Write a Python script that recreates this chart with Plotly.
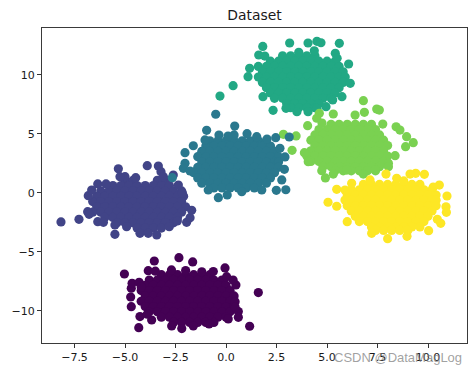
import plotly.graph_objects as go

COLORS = {"purple": "#440154", "blue": "#414487", "teal": "#2a788e",
          "dgreen": "#22a884", "lgreen": "#7ad151", "yellow": "#fde725"}

X_TICKS = [-7.5, -5.0, -2.5, 0.0, 2.5, 5.0, 7.5, 10.0]
X_LABELS = ["\u22127.5", "\u22125.0", "\u22122.5", "0.0", "2.5", "5.0", "7.5", "10.0"]
Y_TICKS = [-10, -5, 0, 5, 10]
Y_LABELS = ["\u221210", "\u22125", "0", "5", "10"]

# Each cluster: body rows (y, [x...]) and separately read edge points (x, y).
purple_rows = [
    (-6.95, [-3.2, -2.8, -2.4, -2.0, -1.6, -1.2, -0.8]),
    (-7.4, [-3.8, -3.4, -3.0, -2.6, -2.2, -1.8, -1.4, -1.0, -0.6, -0.2]),
    (-7.85, [-4.0, -3.6, -3.2, -2.8, -2.4, -2.0, -1.6, -1.2, -0.8, -0.4, 0.0]),
    (-8.3, [-4.2, -3.8, -3.4, -3.0, -2.6, -2.2, -1.8, -1.4, -1.0, -0.6, -0.2, 0.2]),
    (-8.75, [-4.0, -3.6, -3.2, -2.8, -2.4, -2.0, -1.6, -1.2, -0.8, -0.4, 0.0, 0.4]),
    (-9.2, [-4.2, -3.8, -3.4, -3.0, -2.6, -2.2, -1.8, -1.4, -1.0, -0.6, -0.2, 0.2]),
    (-9.65, [-4.0, -3.6, -3.2, -2.8, -2.4, -2.0, -1.6, -1.2, -0.8, -0.4, 0.0, 0.4]),
    (-10.1, [-3.8, -3.4, -3.0, -2.6, -2.2, -1.8, -1.4, -1.0, -0.6, -0.2, 0.2]),
    (-10.55, [-3.2, -2.8, -2.4, -2.0, -1.6, -1.2, -0.8, -0.4, 0.0]),
    (-11.0, [-2.6, -2.2, -1.8, -1.4, -1.0, -0.6]),
]
purple_edge = [(-5.03, -6.89), (-3.55, -5.79), (-2.33, -5.51), (-1.65, -5.87), (1.60, -8.47),
               (1.17, -11.32), (-4.32, -11.44), (-4.69, -9.66), (-4.72, -8.84), (-4.69, -8.10),
               (-4.65, -7.68), (-4.26, -10.5), (-3.68, -10.79), (-2.69, -11.3), (-2.19, -11.52),
               (-1.62, -11.3), (-0.84, -11.13), (0.11, -10.7), (0.61, -10.08), (0.61, -10.56),
               (0.45, -9.24), (0.49, -7.82), (-0.05, -6.38), (0.03, -7.12), (-0.63, -6.69),
               (-3.85, -6.61), (-3.5, -6.65), (-2.7, -6.55), (-2.0, -6.6), (-1.2, -6.7),
               (-4.3, -7.6), (-4.2, -8.0), (-3.9, -10.3), (0.45, -9.7), (0.35, -7.4)]

blue_rows = [
    (1.05, [-5.0, -4.6, -3.4, -3.0]),
    (0.6, [-5.6, -5.2, -4.8, -4.4, -4.0, -3.6, -3.2, -2.8]),
    (0.15, [-6.2, -5.8, -5.4, -5.0, -4.6, -4.2, -3.8, -3.4, -3.0, -2.6, -2.2]),
    (-0.3, [-6.4, -6.0, -5.6, -5.2, -4.8, -4.4, -4.0, -3.6, -3.2, -2.8, -2.4, -2.1]),
    (-0.75, [-6.6, -6.2, -5.8, -5.4, -5.0, -4.6, -4.2, -3.8, -3.4, -3.0, -2.6, -2.2]),
    (-1.2, [-6.4, -6.0, -5.6, -5.2, -4.8, -4.4, -4.0, -3.6, -3.2, -2.8, -2.4, -2.0]),
    (-1.65, [-6.6, -6.2, -5.8, -5.4, -5.0, -4.6, -4.2, -3.8, -3.4, -3.0, -2.6, -2.2]),
    (-2.1, [-6.0, -5.6, -5.2, -4.8, -4.4, -4.0, -3.6, -3.2, -2.8, -2.4]),
    (-2.55, [-5.4, -5.0, -4.6, -4.2, -3.8, -3.4, -3.0, -2.6]),
    (-3.0, [-4.4, -4.0, -3.6, -3.2]),
]
blue_edge = [(-8.17, -2.48), (-7.28, -2.26), (-5.33, 2.03), (-3.90, 2.29), (-3.35, 2.26),
             (-5.50, -3.53), (-3.43, -3.58), (-4.26, -3.44), (-3.85, -3.44), (-2.41, -2.40),
             (-1.95, -2.51), (-1.78, -2.12), (-1.70, -1.49), (-2.36, 0.65), (-2.16, -0.03),
             (-6.82, -0.25), (-6.35, 0.74), (-5.94, 0.74), (-6.65, 0.23), (-6.85, -1.61),
             (-6.78, -1.83), (-6.35, -2.46), (-6.07, -2.51), (-5.50, -2.74), (-4.92, -2.88),
             (-2.81, -2.88), (-3.22, 1.78), (-3.10, 1.36), (-5.0, 1.36), (-5.25, 1.36),
             (-4.47, 1.27), (-2.61, 1.5)]

teal_rows = [
    (4.4, [-0.8, -0.4, 0.0, 0.4, 0.8, 1.2, 1.6, 2.0]),
    (3.95, [-1.0, -0.6, -0.2, 0.2, 0.6, 1.0, 1.4, 1.8, 2.2]),
    (3.5, [-1.2, -0.8, -0.4, 0.0, 0.4, 0.8, 1.2, 1.6, 2.0, 2.4]),
    (3.05, [-1.4, -1.0, -0.6, -0.2, 0.2, 0.6, 1.0, 1.4, 1.8, 2.2, 2.6]),
    (2.6, [-1.2, -0.8, -0.4, 0.0, 0.4, 0.8, 1.2, 1.6, 2.0, 2.4, 2.6]),
    (2.15, [-1.4, -1.0, -0.6, -0.2, 0.2, 0.6, 1.0, 1.4, 1.8, 2.2, 2.6]),
    (1.7, [-1.6, -1.2, -0.8, -0.4, 0.0, 0.4, 0.8, 1.2, 1.6, 2.0, 2.4]),
    (1.25, [-1.4, -1.0, -0.6, -0.2, 0.2, 0.6, 1.0, 1.4, 1.8, 2.2]),
    (0.8, [-1.2, -0.8, -0.4, 0.0, 0.4, 0.8, 1.2, 1.6, 2.0]),
    (0.4, [-0.6, -0.2, 0.2, 0.6, 1.0, 1.4]),
]
teal_edge = [(-0.96, 5.29), (0.43, 5.65), (-0.51, 6.65), (-2.03, 3.39), (-2.03, 2.49),
             (-2.11, 2.07), (-1.78, 1.84), (-0.38, -0.42), (0.06, -0.19), (2.49, 0.20),
             (2.96, 0.25), (2.03, 4.55), (2.46, 4.66), (3.13, 4.72), (2.92, 3.03),
             (2.89, 1.98), (2.76, 1.08), (1.04, 5.0), (1.52, 4.75), (-0.35, 4.89),
             (-1.04, 4.47), (-1.62, 3.98), (2.67, 3.76), (1.77, 0.23), (0.78, 0.08),
             (-0.88, 0.23), (-2.66, 1.27), (0.4, 4.9), (0.1, 4.8)]

dgreen_rows = [
    (11.6, [2.8, 3.2, 3.6, 4.0, 4.4]),
    (11.15, [2.2, 2.6, 3.0, 3.4, 3.8, 4.2, 4.6, 5.0, 5.4]),
    (10.7, [1.6, 2.0, 2.4, 2.8, 3.2, 3.6, 4.0, 4.4, 4.8, 5.2, 5.6]),
    (10.25, [1.8, 2.2, 2.6, 3.0, 3.4, 3.8, 4.2, 4.6, 5.0, 5.4, 5.8]),
    (9.8, [1.6, 2.0, 2.4, 2.8, 3.2, 3.6, 4.0, 4.4, 4.8, 5.2, 5.6, 5.9]),
    (9.35, [1.8, 2.2, 2.6, 3.0, 3.4, 3.8, 4.2, 4.6, 5.0, 5.4, 5.8]),
    (8.9, [2.0, 2.4, 2.8, 3.2, 3.6, 4.0, 4.4, 4.8, 5.2, 5.6]),
    (8.45, [2.2, 2.6, 3.0, 3.4, 3.8, 4.2, 4.6, 5.0, 5.4]),
    (8.0, [2.4, 2.8, 3.2, 3.6, 4.0, 4.4, 4.8, 5.2]),
    (7.55, [3.0, 3.4, 3.8, 4.2, 4.6]),
    (7.2, [3.2, 3.6, 4.0, 4.4]),
]
dgreen_edge = [(-0.30, 8.19), (0.35, 9.07), (1.82, 12.4), (3.15, 12.69), (4.06, 12.69),
               (4.5, 12.83), (4.70, 12.71), (5.61, 12.66), (1.62, 11.67), (1.92, 11.58),
               (1.17, 10.54), (1.09, 9.83), (2.33, 6.98), (2.97, 7.15), (3.51, 6.86),
               (4.06, 6.86), (4.50, 7.15), (4.95, 7.29), (6.15, 9.27), (6.07, 10.91),
               (5.74, 8.14), (5.28, 7.86), (5.41, 11.81), (4.37, 12.03), (1.83, 8.14),
               (5.5, 11.4), (3.6, 11.9)]

lgreen_rows = [
    (5.8, [5.2, 5.6, 6.0, 6.4, 6.8, 7.2]),
    (5.35, [4.6, 5.0, 5.4, 5.8, 6.2, 6.6, 7.0, 7.4]),
    (4.9, [4.4, 4.8, 5.2, 5.6, 6.0, 6.4, 6.8, 7.2, 7.6]),
    (4.45, [4.2, 4.6, 5.0, 5.4, 5.8, 6.2, 6.6, 7.0, 7.4, 7.8]),
    (4.0, [4.4, 4.8, 5.2, 5.6, 6.0, 6.4, 6.8, 7.2, 7.6, 8.0]),
    (3.55, [4.2, 4.6, 5.0, 5.4, 5.8, 6.2, 6.6, 7.0, 7.4, 7.8]),
    (3.1, [4.0, 4.4, 4.8, 5.2, 5.6, 6.0, 6.4, 6.8, 7.2, 7.6, 8.0]),
    (2.65, [4.2, 4.6, 5.0, 5.4, 5.8, 6.2, 6.6, 7.0, 7.4, 7.8]),
    (2.2, [4.8, 5.2, 5.6, 6.0, 6.4, 6.8, 7.2, 7.6]),
    (1.85, [5.4, 5.8, 6.2, 6.6, 7.0, 7.4]),
]
lgreen_edge = [(6.80, 7.8), (7.46, 7.09), (7.59, 7.0), (5.31, 6.67), (6.85, 6.81),
               (4.62, 6.73), (4.49, 6.31), (4.04, 5.68), (9.27, 4.24), (8.89, 3.90),
               (8.94, 4.75), (8.42, 5.59), (8.61, 5.31), (2.84, 4.95), (3.47, 4.81),
               (3.27, 3.59), (4.92, 1.25), (4.74, 1.86), (5.31, 1.58), (8.37, 3.14),
               (8.04, 2.49), (8.04, 2.2), (3.88, 3.39), (4.07, 2.63), (7.76, 5.82),
               (6.39, 6.58), (5.98, 1.92), (6.80, 1.58), (7.38, 1.92), (4.75, 5.9)]

yellow_rows = [
    (0.7, [6.8, 7.2, 7.6, 8.0, 8.4, 8.8, 9.2, 9.6]),
    (0.25, [6.2, 6.6, 7.0, 7.4, 7.8, 8.2, 8.6, 9.0, 9.4, 9.8, 10.2]),
    (-0.2, [6.0, 6.4, 6.8, 7.2, 7.6, 8.0, 8.4, 8.8, 9.2, 9.6, 10.0, 10.4]),
    (-0.65, [6.2, 6.6, 7.0, 7.4, 7.8, 8.2, 8.6, 9.0, 9.4, 9.8, 10.2, 10.4]),
    (-1.1, [6.0, 6.4, 6.8, 7.2, 7.6, 8.0, 8.4, 8.8, 9.2, 9.6, 10.0, 10.4]),
    (-1.55, [6.2, 6.6, 7.0, 7.4, 7.8, 8.2, 8.6, 9.0, 9.4, 9.8, 10.2]),
    (-2.0, [6.4, 6.8, 7.2, 7.6, 8.0, 8.4, 8.8, 9.2, 9.6, 10.0]),
    (-2.45, [6.6, 7.0, 7.4, 7.8, 8.2, 8.6, 9.0, 9.4, 9.8]),
    (-2.9, [7.2, 7.6, 8.0, 8.4, 8.8, 9.2, 9.6]),
    (-3.2, [7.4, 7.8, 8.2, 8.6, 9.0]),
]
yellow_edge = [(5.05, -0.81), (5.48, 0.29), (5.48, -1.15), (9.82, 1.56), (9.39, 1.64),
               (9.11, 1.58), (10.94, -0.28), (10.89, -1.19), (10.91, -1.66), (10.46, -2.25),
               (10.63, -2.6), (10.03, -3.22), (8.96, -3.70), (8.0, -3.9), (7.21, -3.44),
               (6.0, -2.46), (7.92, 1.58), (7.13, 1.08), (6.22, 0.8), (10.56, 0.65),
               (10.26, 0.48), (8.45, 1.22), (5.89, 0.23), (5.89, -0.62), (8.8, 1.0)]

CLUSTERS = [
    ("dgreen", dgreen_rows, dgreen_edge),
    ("lgreen", lgreen_rows, lgreen_edge),
    ("purple", purple_rows, purple_edge),
    ("blue", blue_rows, blue_edge),
    ("teal", teal_rows, teal_edge),
    ("yellow", yellow_rows, yellow_edge),
]

fig = go.Figure()
for name, rows, edge in CLUSTERS:
    xs = [x for _, row in rows for x in row] + [p[0] for p in edge]
    ys = [y for y, row in rows for _ in row] + [p[1] for p in edge]
    fig.add_trace(go.Scatter(x=xs, y=ys, mode="markers", name=name, showlegend=False,
                             hoverinfo="skip",
                             marker=dict(color=COLORS[name], size=9.2, line=dict(width=0))))

W, H = 474, 372
L, R, T, B = 42, 467, 28, 343
AX = dict(showgrid=False, zeroline=False, showline=True, linecolor="#3a3a3a", linewidth=1,
          mirror=True, ticks="outside", ticklen=4, tickwidth=0.8, tickcolor="#333333",
          tickfont=dict(family="DejaVu Sans", size=11, color="#1a1a1a"))
fig.update_layout(
    width=W, height=H, paper_bgcolor="white", plot_bgcolor="white",
    margin=dict(l=L, r=W - R, t=T, b=H - B, autoexpand=False),
    title=dict(text="Dataset", x=(L + R) / 2 / W, xanchor="center", y=1 - 15 / H, yanchor="middle",
               font=dict(family="DejaVu Sans", size=13.9, color="#1a1a1a")),
    xaxis=dict(range=[-9.11, 11.93], tickvals=X_TICKS, ticktext=X_LABELS, **AX),
    yaxis=dict(range=[-12.74, 13.96], tickvals=Y_TICKS, ticktext=Y_LABELS, **AX),
    annotations=[dict(text="CSDN @DataMagLog", xref="paper", yref="paper",
                      x=(464 - L) / (R - L), y=(B - 357) / (B - T), xanchor="right", yanchor="middle",
                      showarrow=False,
                      font=dict(family="Liberation Sans", size=13, color="rgba(130,130,130,0.75)"))],
)
fig.write_html("out.html", config={"displayModeBar": False},
               post_script="document.body.style.margin='0';document.documentElement.style.overflow='hidden';")
